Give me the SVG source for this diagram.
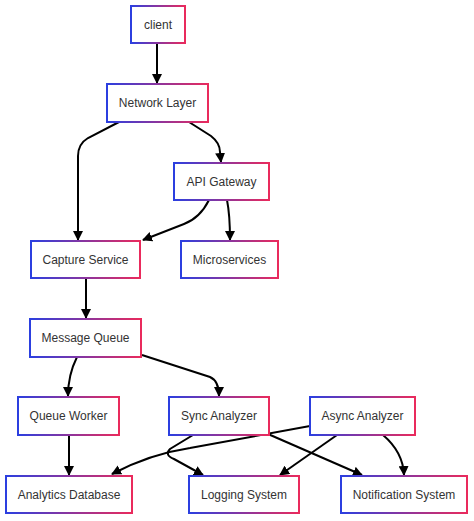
<svg xmlns="http://www.w3.org/2000/svg" width="474" height="521" viewBox="0 0 474 521">
<defs>
<linearGradient id="g" x1="0" y1="0" x2="1" y2="0">
<stop offset="0" stop-color="#2b3fe0"/>
<stop offset="1" stop-color="#ea2a5c"/>
</linearGradient>
<marker id="ah" viewBox="0 0 10 10" refX="9" refY="5" markerWidth="5" markerHeight="5" orient="auto" markerUnits="strokeWidth">
<path d="M0,0 L10,5 L0,10 z" fill="#000"/>
</marker>
</defs>
<style>
.n rect{fill:#fff;stroke:url(#g);stroke-width:2}
.n text{font-family:"Liberation Sans",Arial,sans-serif;font-size:12px;fill:#333;text-anchor:middle;dominant-baseline:central}
#edges path{fill:none;stroke:#000;stroke-width:2;marker-end:url(#ah)}
</style>
<rect width="474" height="521" fill="#fff"/>
<g id="edges">
<path d="M157,43 L157,83"/>
<path d="M119,122 L88,138 Q78,144 78,156 L78,240"/>
<path d="M189,122 L211,136 Q220,143 220,152 L221,162"/>
<path d="M209,200 Q200,218 184,224 L143,240"/>
<path d="M227,200 Q230,215 230,240"/>
<path d="M86,278 L86,318"/>
<path d="M77,357 Q68,375 68,396"/>
<path d="M142,355 L210,377 Q219,381 219,396"/>
<path d="M69,435 L69,475"/>
<path d="M193,435 L170,449 Q164,455 174,459 L203,475"/>
<path d="M268,434 L362,475"/>
<path d="M310,426 L190,448 Q150,454 112,474"/>
<path d="M337,435 L280,475"/>
<path d="M383,435 Q403,452 404,475"/>
</g>
<g id="client" class="n"><rect x="131" y="6" width="54" height="37"/><text x="158" y="24.5">client</text></g>
<g id="network" class="n"><rect x="107" y="84" width="101" height="38"/><text x="157.5" y="103">Network Layer</text></g>
<g id="api" class="n"><rect x="174" y="163" width="95" height="37"/><text x="221.5" y="181.5">API Gateway</text></g>
<g id="capture" class="n"><rect x="31" y="241" width="109" height="37"/><text x="85.5" y="259.5">Capture Service</text></g>
<g id="micro" class="n"><rect x="181" y="241" width="97" height="37"/><text x="229.5" y="259.5">Microservices</text></g>
<g id="mq" class="n"><rect x="30" y="319" width="111" height="38"/><text x="85.5" y="338">Message Queue</text></g>
<g id="qw" class="n"><rect x="18" y="397" width="101" height="38"/><text x="68.5" y="416">Queue Worker</text></g>
<g id="sync" class="n"><rect x="169" y="397" width="100" height="38"/><text x="219" y="416">Sync Analyzer</text></g>
<g id="async" class="n"><rect x="310" y="397" width="105" height="38"/><text x="362.5" y="416">Async Analyzer</text></g>
<g id="adb" class="n"><rect x="6" y="476" width="126" height="37"/><text x="69" y="494.5">Analytics Database</text></g>
<g id="log" class="n"><rect x="189" y="476" width="110" height="37"/><text x="244" y="494.5">Logging System</text></g>
<g id="notif" class="n"><rect x="341" y="476" width="126" height="37"/><text x="404" y="494.5">Notification System</text></g>
</svg>
